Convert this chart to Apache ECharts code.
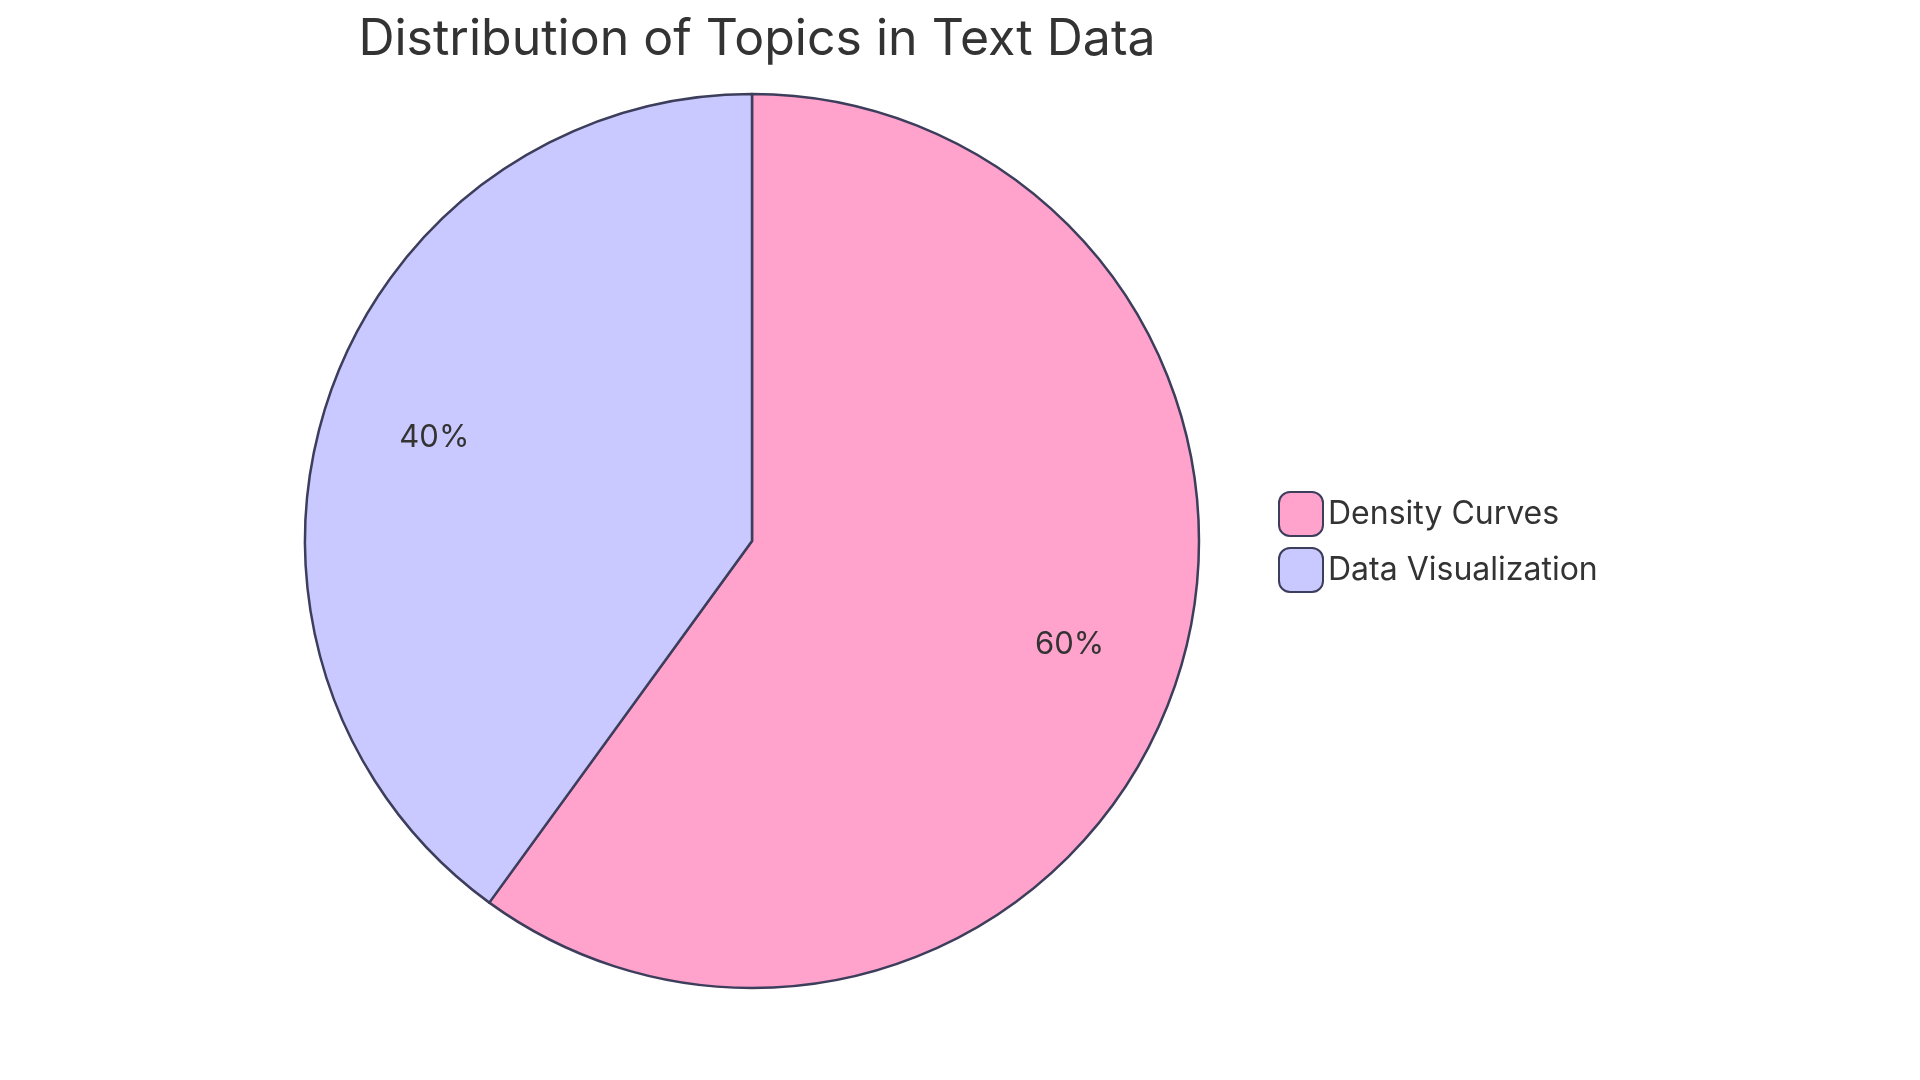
<!DOCTYPE html>
<html><head><meta charset="utf-8">
<script src="https://cdn.jsdelivr.net/npm/echarts@6/dist/echarts.min.js"></script>
<style>html,body{margin:0;padding:0;background:#fff}#c{width:1920px;height:1080px}</style>
</head><body><div id="c"></div>
<script>
const categories = ['Density Curves', 'Data Visualization'];
const values = [60, 40];
const colors = ['#FFA3CD', '#C9C9FF'];
const chart = echarts.init(document.getElementById('c'));
const data = categories.map((n, i) => ({ name: n, value: values[i], itemStyle: { color: colors[i] } }));
chart.setOption({
  animation: false,
  title: { text: 'Distribution of Topics in Text Data', left: 752, top: 10, textAlign: 'center',
    textStyle: { fontFamily: 'Inter', fontWeight: 400, fontSize: 50, color: '#333' } },
  legend: { orient: 'vertical', left: 1273, top: 486, itemWidth: 44, itemHeight: 44, itemGap: 10,
    textStyle: { fontFamily: 'Inter', fontSize: 32, color: '#333' }, data: categories },
  series: [
    { type: 'pie', center: [752, 541], radius: [0, 447], startAngle: 90, clockwise: true,
      data: data, label: { show: false }, labelLine: { show: false },
      itemStyle: { borderColor: '#3d3d5c', borderWidth: 2.5 }, emphasis: { disabled: true } },
    { type: 'pie', center: [752, 541], radius: [0, 662], startAngle: 90, clockwise: true, silent: true,
      legendHoverLink: false,
      data: categories.map((n, i) => ({ name: n + ' ', value: values[i], itemStyle: { color: 'transparent' } })),
      label: { show: true, position: 'inside', formatter: p => values[p.dataIndex] + '%',
        fontFamily: 'Inter', fontSize: 31, color: '#333' },
      labelLine: { show: false }, emphasis: { disabled: true } }
  ]
});
</script></body></html>
